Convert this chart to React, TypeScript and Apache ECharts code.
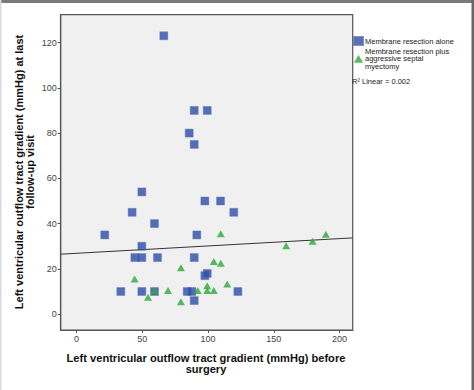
import React, { useEffect, useRef } from "react";
import * as echarts from "echarts";

const aloneX = [66.4, 89.5, 99.4, 85.7, 89.5, 49.7, 97.6, 109.5, 42.3, 119.6, 59.3, 21.5, 91.5, 49.7, 44.4, 49.7, 61.6, 89.5, 97.6, 99.4, 33.7, 49.7, 59.3, 84.2, 87.7, 89.5, 122.7];
const aloneY = [123, 90, 90, 80, 75, 54, 50, 50, 45, 45, 40, 35, 35, 30, 25, 25, 25, 25, 17, 18, 10, 10, 10, 10, 10, 6, 10];
const plusX = [44.2, 54.4, 59.5, 69.6, 79.4, 79.4, 92.2, 99.4, 99.4, 104.4, 104.4, 109.7, 109.7, 114.6, 159.4, 179.5, 189.6];
const plusY = [15.5, 7.5, 10.5, 10.5, 20.5, 5.5, 10.5, 12.5, 10.5, 10.5, 23.3, 22.5, 35.5, 13.3, 30.2, 32.2, 35.3];
const fitLine = [[-12, 26.5], [210, 33.7]];
const xTicks = [0, 50, 100, 150, 200];
const yTicks = [0, 20, 40, 60, 80, 100, 120];
const seriesNames = ["Membrane resection alone", "Membrane resection plus\naggressive septal\nmyectomy"];

export default function App() {
  const ref = useRef<HTMLDivElement>(null);
  useEffect(() => {
    document.body.style.margin = "0";
    const chart = echarts.init(ref.current!, null, { renderer: "svg" });
    const font = "Liberation Sans, Arial, sans-serif";
    chart.setOption({
      animation: false,
      backgroundColor: "#ffffff",
      grid: {
        left: 60.7,
        right: 121.3,
        top: 14.7,
        bottom: 60,
        show: true,
        backgroundColor: "#f0f0f0",
        borderColor: "#555555",
        borderWidth: 1.2,
      },
      xAxis: {
        type: "value",
        min: -12,
        max: 210,
        splitLine: { show: false },
        axisLine: { show: true, onZero: false, lineStyle: { color: "#555555", width: 1.2 } },
        axisTick: { show: true, customValues: xTicks, length: 3, lineStyle: { color: "#555555" } },
        axisLabel: { customValues: xTicks, fontSize: 9, color: "#444", fontFamily: font, margin: 4 },
      },
      yAxis: {
        type: "value",
        min: -7,
        max: 132.3,
        splitLine: { show: false },
        axisLine: { show: true, onZero: false, lineStyle: { color: "#555555", width: 1.2 } },
        axisTick: { show: true, customValues: yTicks, length: 3, lineStyle: { color: "#555555" } },
        axisLabel: { customValues: yTicks, fontSize: 9, color: "#444", fontFamily: font, margin: 4 },
      },
      legend: {
        orient: "vertical",
        left: 353,
        top: 36,
        padding: 0,
        itemWidth: 9,
        itemHeight: 8,
        itemGap: 1,
        data: [
          { name: seriesNames[0], icon: "rect" },
          { name: seriesNames[1], icon: "triangle" },
        ],
        textStyle: { fontSize: 7.5, lineHeight: 7.8, color: "#222", fontFamily: font, padding: [0, 0, 0, -3] },
      },
      graphic: [
        {
          type: "text",
          left: 352,
          top: 77,
          style: { text: "R² Linear = 0.002", fontSize: 7.5, fill: "#222", fontFamily: font },
        },
        {
          type: "text",
          x: 206,
          y: 352,
          style: {
            text: "Left ventricular outflow tract gradient (mmHg) before\nsurgery",
            fontSize: 11,
            lineHeight: 11.5,
            fontWeight: "bold",
            fill: "#111",
            fontFamily: font,
            align: "center",
            verticalAlign: "top",
          },
          scaleX: 1.01,
        },
        {
          type: "text",
          x: 13,
          y: 172,
          rotation: Math.PI / 2,
          style: {
            text: "Left ventricular outflow tract gradient (mmHg) at last\nfollow-up visit",
            fontSize: 11,
            lineHeight: 11.5,
            fontWeight: "bold",
            fill: "#111",
            fontFamily: font,
            align: "center",
            verticalAlign: "top",
          },
          scaleX: 1.0,
        },
        { type: "rect", shape: { x: 0, y: 0, width: 474, height: 3 }, style: { fill: "#7a7a7a" } },
        { type: "rect", shape: { x: 471.5, y: 0, width: 2.5, height: 390 }, style: { fill: "#666666" } },
        { type: "rect", shape: { x: 0, y: 0, width: 1.5, height: 390 }, style: { fill: "#d8d8d8" } },
      ],
      series: [
        {
          name: seriesNames[0],
          type: "scatter",
          symbol: "rect",
          symbolSize: 8,
          itemStyle: { color: "#2d4ea6", borderColor: "#5a74b8", borderWidth: 0.5 },
          data: aloneX.map((x, i) => [x, aloneY[i]]),
          z: 3,
        },
        {
          name: seriesNames[1],
          type: "scatter",
          symbol: "triangle",
          symbolSize: [8, 7],
          itemStyle: { color: "#2eaa3c" },
          data: plusX.map((x, i) => [x, plusY[i]]),
          z: 4,
        },
        {
          name: "fit",
          type: "line",
          data: fitLine,
          symbol: "none",
          lineStyle: { color: "#333333", width: 1 },
          z: 2,
        },
      ],
    });
    return () => chart.dispose();
  }, []);
  return <div ref={ref} style={{ position: "absolute", left: 0, top: 0, width: 474, height: 390 }} />;
}
